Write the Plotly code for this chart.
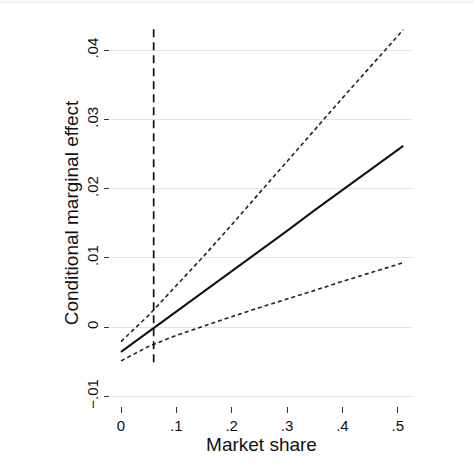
import plotly.graph_objects as go

# Data
share = [0, 0.05, 0.1, 0.15, 0.2, 0.25, 0.3, 0.35, 0.4, 0.45, 0.51]
effect = [-0.0036, -0.0007, 0.0022, 0.0052, 0.0081, 0.0110, 0.0139, 0.0169, 0.0198, 0.0227, 0.0262]
upper = [-0.0021, 0.0017, 0.0060, 0.0103, 0.0148, 0.0194, 0.0240, 0.0285, 0.0331, 0.0376, 0.0430]
lower = [-0.0049, -0.0028, -0.0012, 0.0002, 0.0015, 0.0028, 0.0040, 0.0053, 0.0066, 0.0078, 0.0093]
vline_x = [0.059, 0.059]
vline_y = [-0.0051, 0.0432]

x_ticks = [0, 0.1, 0.2, 0.3, 0.4, 0.5]
x_labels = ["0", ".1", ".2", ".3", ".4", ".5"]
y_ticks = [-0.01, 0, 0.01, 0.02, 0.03, 0.04]
y_labels = ["\u2212.01", "0", ".01", ".02", ".03", ".04"]

fig = go.Figure()
fig.add_trace(go.Scatter(x=share, y=upper, mode="lines",
                         line=dict(color="#222", width=1.6, dash="4px,3px")))
fig.add_trace(go.Scatter(x=share, y=lower, mode="lines",
                         line=dict(color="#222", width=1.6, dash="4px,3px")))
fig.add_trace(go.Scatter(x=share, y=effect, mode="lines",
                         line=dict(color="#111", width=2)))
fig.add_trace(go.Scatter(x=vline_x, y=vline_y, mode="lines",
                         line=dict(color="#111", width=1.7, dash="8px,5px")))

font = "Liberation Sans, Arial, sans-serif"
fig.update_layout(
    width=474, height=474,
    margin=dict(l=110, r=61, t=20, b=68),
    paper_bgcolor="white", plot_bgcolor="white",
    showlegend=False,
    font=dict(family=font, color="#111"),
    xaxis=dict(range=[-0.0199, 0.5276], tickvals=x_ticks, ticktext=x_labels,
               showgrid=False, zeroline=False, showline=False,
               ticks="outside", ticklen=6, tickwidth=1, tickcolor="#333",
               tickfont=dict(size=15),
               title=dict(text="Market share", font=dict(size=19), standoff=1)),
    yaxis=dict(range=[-0.01142, 0.0444], tickvals=y_ticks, ticktext=y_labels,
               showgrid=True, gridcolor="#e4e4e4", gridwidth=1,
               zeroline=False, showline=False,
               ticks="outside", ticklen=5, tickwidth=1, tickcolor="#333",
               tickangle=-90, tickfont=dict(size=15),
               title=dict(text="Conditional marginal effect", font=dict(size=19), standoff=0)),
    shapes=[dict(type="line", xref="paper", yref="paper", x0=-0.4, x1=1.3,
                 y0=1.0466, y1=1.0466, line=dict(color="#e8e8e8", width=1))],
)

fig.write_html("out.html")
